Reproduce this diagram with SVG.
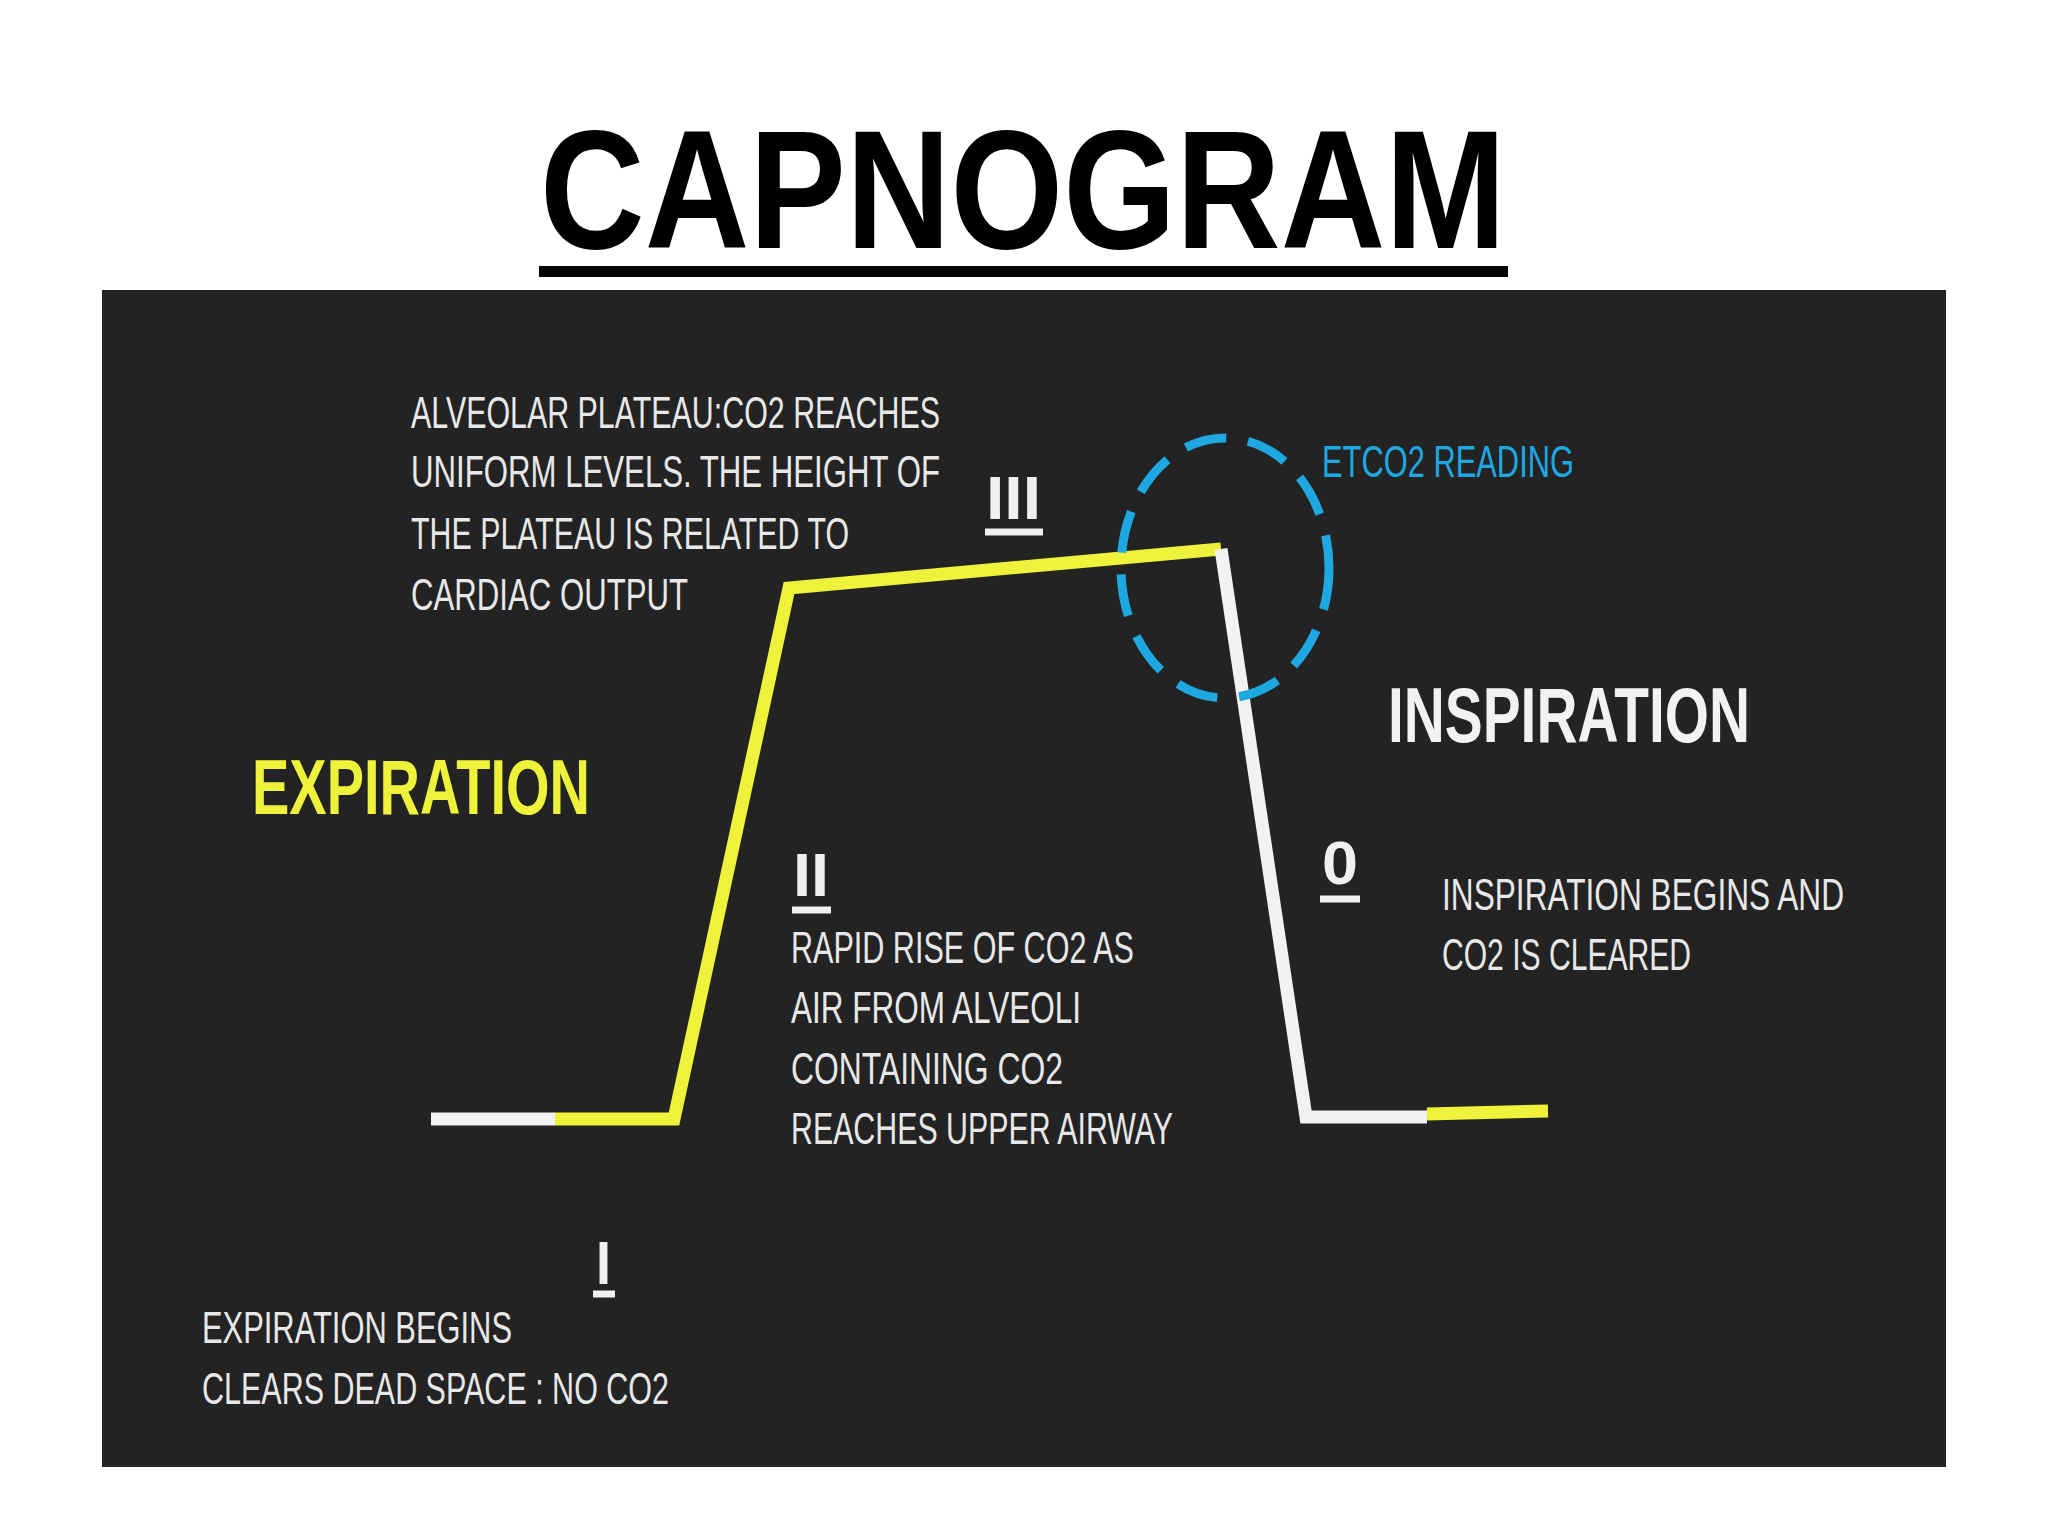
<svg xmlns="http://www.w3.org/2000/svg" width="2048" height="1536" viewBox="0 0 2048 1536">
<style>
.t{font-family:"Liberation Sans",Arial,sans-serif;fill:#e8e8e8;font-size:44px}
.b{font-family:"Liberation Sans",Arial,sans-serif;font-weight:bold;font-size:78px}
.r{font-family:"Liberation Sans",Arial,sans-serif;font-weight:bold;fill:#f0f0f0;font-size:62px}
.w{stroke:#f2f2f2;stroke-width:13;fill:none}
.y{stroke:#eef23a;stroke-width:13;fill:none}
.u{stroke:#f0f0f0;stroke-width:7}
</style>
<rect width="2048" height="1536" fill="#fff"/>
<g id="title">
<text x="1023" y="248" text-anchor="middle" font-family="Liberation Sans,Arial,sans-serif" font-weight="bold" font-size="168" fill="#000" textLength="966" lengthAdjust="spacingAndGlyphs">CAPNOGRAM</text>
<rect x="539" y="266" width="969" height="11" fill="#000"/>
</g>
<rect id="panel" x="102" y="290" width="1844" height="1177" fill="#232323"/>
<g id="connectors">
<polyline class="w" points="431,1119 555,1119"/>
<polyline class="y" points="555,1119 674,1119 789,588 1221,549"/>
<polyline class="w" points="1221,549 1306,1117 1427,1117"/>
<polyline class="y" points="1427,1114 1548,1111"/>
</g>
<g id="etco2">
<ellipse cx="1225" cy="568" rx="104" ry="130" fill="none" stroke="#1ea7e1" stroke-width="9" stroke-dasharray="42,22"/>
<text class="t" x="1322" y="477" style="fill:#1ea7e1" textLength="252" lengthAdjust="spacingAndGlyphs">ETCO2 READING</text>
</g>
<g id="phase3">
<text class="t" x="411" y="428" textLength="529" lengthAdjust="spacingAndGlyphs">ALVEOLAR PLATEAU:CO2 REACHES</text>
<text class="t" x="411" y="487" textLength="529" lengthAdjust="spacingAndGlyphs">UNIFORM LEVELS. THE HEIGHT OF</text>
<text class="t" x="411" y="549" textLength="438" lengthAdjust="spacingAndGlyphs">THE PLATEAU IS RELATED TO</text>
<text class="t" x="411" y="610" textLength="277" lengthAdjust="spacingAndGlyphs">CARDIAC OUTPUT</text>
<text class="r" x="986" y="519" textLength="55" lengthAdjust="spacingAndGlyphs">III</text>
<line class="u" x1="985" y1="532" x2="1043" y2="532"/>
</g>
<g id="inspiration">
<text class="b" x="1388" y="742" fill="#f2f2f2" textLength="362" lengthAdjust="spacingAndGlyphs">INSPIRATION</text>
</g>
<g id="expiration">
<text class="b" x="252" y="814" fill="#eef23a" textLength="338" lengthAdjust="spacingAndGlyphs">EXPIRATION</text>
</g>
<g id="phase2">
<text class="r" x="793" y="896" textLength="36" lengthAdjust="spacingAndGlyphs">II</text>
<line class="u" x1="792" y1="910" x2="831" y2="910"/>
<text class="t" x="791" y="963" textLength="343" lengthAdjust="spacingAndGlyphs">RAPID RISE OF CO2 AS</text>
<text class="t" x="791" y="1023" textLength="290" lengthAdjust="spacingAndGlyphs">AIR FROM ALVEOLI</text>
<text class="t" x="791" y="1084" textLength="272" lengthAdjust="spacingAndGlyphs">CONTAINING CO2</text>
<text class="t" x="791" y="1144" textLength="382" lengthAdjust="spacingAndGlyphs">REACHES UPPER AIRWAY</text>
</g>
<g id="phase0">
<text class="r" x="1322" y="884" textLength="36" lengthAdjust="spacingAndGlyphs">0</text>
<line class="u" x1="1320" y1="899" x2="1360" y2="899"/>
<text class="t" x="1442" y="910" textLength="402" lengthAdjust="spacingAndGlyphs">INSPIRATION BEGINS AND</text>
<text class="t" x="1442" y="970" textLength="249" lengthAdjust="spacingAndGlyphs">CO2 IS CLEARED</text>
</g>
<g id="phase1">
<text class="r" x="596" y="1284" textLength="15" lengthAdjust="spacingAndGlyphs">I</text>
<line class="u" x1="593" y1="1294" x2="615" y2="1294"/>
<text class="t" x="202" y="1343" textLength="310" lengthAdjust="spacingAndGlyphs">EXPIRATION BEGINS</text>
<text class="t" x="202" y="1404" textLength="467" lengthAdjust="spacingAndGlyphs">CLEARS DEAD SPACE : NO CO2</text>
</g>
</svg>
